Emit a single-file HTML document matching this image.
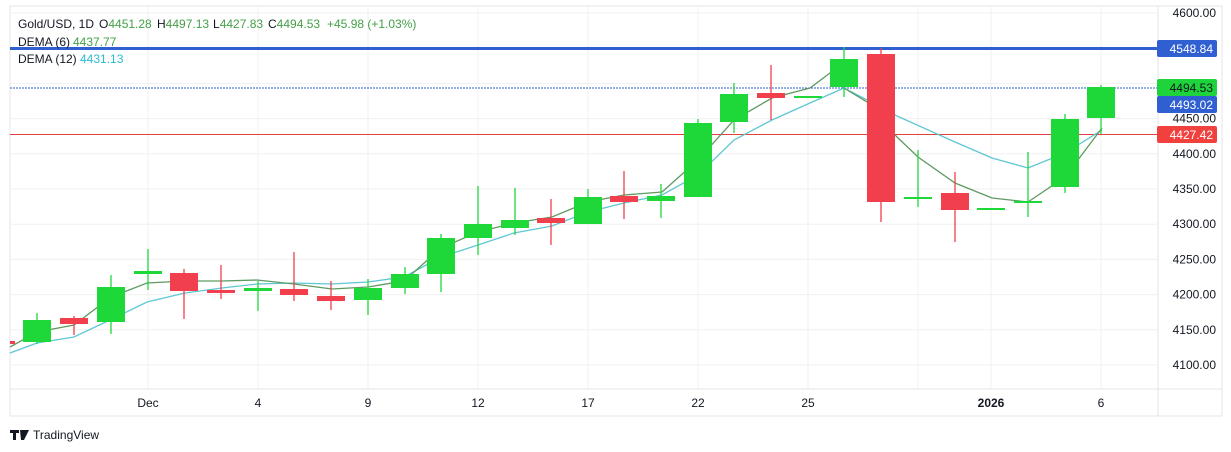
<!DOCTYPE html>
<html><head><meta charset="utf-8"><style>
html,body{margin:0;padding:0;background:#fff;width:1231px;height:452px;overflow:hidden}
svg text{font-family:"Liberation Sans",sans-serif}
</style></head><body>
<svg width="1231" height="452" viewBox="0 0 1231 452" xmlns="http://www.w3.org/2000/svg">
<rect x="0" y="0" width="1231" height="452" fill="#fff"/>
<rect x="10" y="6" width="1212" height="410" fill="#fff" stroke="#e6e6e6" stroke-width="1"/>
<defs><clipPath id="cp"><rect x="10" y="6" width="1148" height="383"/></clipPath></defs>
<g clip-path="url(#cp)">
<g stroke="#f0f0f0" stroke-width="1">
<line x1="10" x2="1158" y1="13" y2="13"/><line x1="10" x2="1158" y1="48.2" y2="48.2"/><line x1="10" x2="1158" y1="83.4" y2="83.4"/><line x1="10" x2="1158" y1="118.6" y2="118.6"/><line x1="10" x2="1158" y1="153.8" y2="153.8"/><line x1="10" x2="1158" y1="189" y2="189"/><line x1="10" x2="1158" y1="224.2" y2="224.2"/><line x1="10" x2="1158" y1="259.4" y2="259.4"/><line x1="10" x2="1158" y1="294.6" y2="294.6"/><line x1="10" x2="1158" y1="329.8" y2="329.8"/><line x1="10" x2="1158" y1="365" y2="365"/>
<line x1="148" x2="148" y1="6" y2="389"/><line x1="258" x2="258" y1="6" y2="389"/><line x1="368" x2="368" y1="6" y2="389"/><line x1="478" x2="478" y1="6" y2="389"/><line x1="588" x2="588" y1="6" y2="389"/><line x1="698" x2="698" y1="6" y2="389"/><line x1="808" x2="808" y1="6" y2="389"/><line x1="918" x2="918" y1="6" y2="389"/><line x1="991" x2="991" y1="6" y2="389"/><line x1="1101" x2="1101" y1="6" y2="389"/>
</g>
<line x1="10" x2="1158" y1="134.5" y2="134.5" stroke="#e0403f" stroke-width="1"/>
<line x1="10" x2="1158" y1="88" y2="88" stroke="#2f5fd0" stroke-width="1" stroke-dasharray="2,1"/>
<line x1="10" x2="1158" y1="48.5" y2="48.5" stroke="#2f5fd0" stroke-width="3"/>
<polyline fill="none" stroke="#5fc7d4" stroke-width="1.3" points="10,353 37,343 74,337 110,320 147,302 185,293 222,288 257,284 294,283 332,284 368,282 404,277 441,257 478,245 514,233 552,226 588,212 624,203 662,195 698,175 734,140 772,120 810,103 844,88 867,100 897,116 955,142 992,158 1028,168 1065,153 1102,130"/>
<polyline fill="none" stroke="#5e9a62" stroke-width="1.3" points="10,347 37,332 74,325 111,297 147,283 185,281 222,281 257,280 294,284 332,289 368,287 404,281 441,248 478,232 514,223 552,217 588,202 624,195 662,192 698,160 734,120 772,98 810,88 830,73 844,88 867,102 897,137 918,157 955,183 992,198 1028,202 1065,177 1102,128"/>
<g stroke-width="1.3">
<g stroke="#1ed83a" fill="#1ed83a">
<line x1="37" x2="37" y1="313" y2="344"/><rect x="23" y="320" width="28" height="22" stroke="none"/>
<line x1="111" x2="111" y1="275" y2="334"/><rect x="97" y="287" width="28" height="35" stroke="none"/>
<line x1="148" x2="148" y1="249" y2="290"/><rect x="134" y="271" width="28" height="3" stroke="none"/>
<line x1="258" x2="258" y1="281" y2="311"/><rect x="244" y="288" width="28" height="3" stroke="none"/>
<line x1="368" x2="368" y1="279" y2="315"/><rect x="354" y="288" width="28" height="12" stroke="none"/>
<line x1="405" x2="405" y1="267" y2="294"/><rect x="391" y="274" width="28" height="14" stroke="none"/>
<line x1="441" x2="441" y1="234" y2="292"/><rect x="427" y="238" width="28" height="36" stroke="none"/>
<line x1="478" x2="478" y1="186" y2="255"/><rect x="464" y="224" width="28" height="14" stroke="none"/>
<line x1="515" x2="515" y1="188" y2="235"/><rect x="501" y="220" width="28" height="8" stroke="none"/>
<line x1="588" x2="588" y1="189" y2="224"/><rect x="574" y="197" width="28" height="27" stroke="none"/>
<line x1="661" x2="661" y1="184" y2="218"/><rect x="647" y="196" width="28" height="5" stroke="none"/>
<line x1="698" x2="698" y1="119" y2="197"/><rect x="684" y="123" width="28" height="74" stroke="none"/>
<line x1="734" x2="734" y1="83" y2="133"/><rect x="720" y="94" width="28" height="28" stroke="none"/>
<rect x="794" y="96" width="28" height="2" stroke="none"/>
<line x1="844" x2="844" y1="47" y2="97"/><rect x="830" y="59" width="28" height="28" stroke="none"/>
<line x1="918" x2="918" y1="150" y2="207"/><rect x="904" y="197" width="28" height="2" stroke="none"/>
<rect x="977" y="208" width="28" height="2" stroke="none"/>
<line x1="1028" x2="1028" y1="152" y2="217"/><rect x="1014" y="201" width="28" height="2" stroke="none"/>
<line x1="1065" x2="1065" y1="114" y2="193"/><rect x="1051" y="119" width="28" height="68" stroke="none"/>
<line x1="1101" x2="1101" y1="85" y2="134"/><rect x="1087" y="87" width="28" height="31" stroke="none"/>
</g>
<g stroke="#f23f4e" fill="#f23f4e">
<rect x="10" y="341" width="5" height="3" stroke="none"/>
<line x1="74" x2="74" y1="316" y2="335"/><rect x="60" y="318" width="28" height="6" stroke="none"/>
<line x1="184" x2="184" y1="269" y2="319"/><rect x="170" y="273" width="28" height="18" stroke="none"/>
<line x1="221" x2="221" y1="265" y2="299"/><rect x="207" y="290" width="28" height="3" stroke="none"/>
<line x1="294" x2="294" y1="252" y2="301"/><rect x="280" y="289" width="28" height="6" stroke="none"/>
<line x1="331" x2="331" y1="281" y2="310"/><rect x="317" y="296" width="28" height="5" stroke="none"/>
<line x1="551" x2="551" y1="199" y2="245"/><rect x="537" y="218" width="28" height="5" stroke="none"/>
<line x1="624" x2="624" y1="171" y2="219"/><rect x="610" y="196" width="28" height="6" stroke="none"/>
<line x1="771" x2="771" y1="65" y2="120"/><rect x="757" y="93" width="28" height="5" stroke="none"/>
<line x1="881" x2="881" y1="48" y2="222"/><rect x="867" y="54" width="28" height="148" stroke="none"/>
<line x1="955" x2="955" y1="172" y2="242"/><rect x="941" y="193" width="28" height="17" stroke="none"/>
</g>
</g>
</g>
<g font-size="12" fill="#131722" text-anchor="end">
<line x1="1158" y1="6" x2="1158" y2="416" stroke="#e6e6e6"/>
<line x1="10" y1="389" x2="1222" y2="389" stroke="#e6e6e6"/>
<text x="1216" y="17">4600.00</text>
<text x="1216" y="122.6">4450.00</text>
<text x="1216" y="157.8">4400.00</text>
<text x="1216" y="193">4350.00</text>
<text x="1216" y="228.2">4300.00</text>
<text x="1216" y="263.4">4250.00</text>
<text x="1216" y="298.6">4200.00</text>
<text x="1216" y="333.8">4150.00</text>
<text x="1216" y="369">4100.00</text>
<rect x="1157" y="40" width="60" height="17" rx="2" fill="#2f5fd0"/><text x="1213" y="53" fill="#fff">4548.84</text>
<rect x="1157" y="79" width="60" height="17" rx="2" fill="#1fd43a"/><text x="1213" y="92" fill="#131722">4494.53</text>
<rect x="1157" y="96" width="60" height="17" rx="2" fill="#2f5fd0"/><text x="1213" y="109" fill="#fff">4493.02</text>
<rect x="1157" y="126" width="60" height="17" rx="2" fill="#f0413f"/><text x="1213" y="139" fill="#fff">4427.42</text>
</g>
<g font-size="12" fill="#131722" text-anchor="middle">
<text x="148" y="407">Dec</text><text x="258" y="407">4</text><text x="368" y="407">9</text><text x="478" y="407">12</text><text x="588" y="407">17</text><text x="698" y="407">22</text><text x="808" y="407">25</text><text x="991" y="407" font-weight="bold">2026</text><text x="1101" y="407">6</text>
</g>
<g font-size="12" fill="#131722">
<text x="18" y="28">Gold/USD, 1D</text>
<text x="99" y="28">O<tspan fill="#43a047">4451.28</tspan></text>
<text x="157" y="28">H<tspan fill="#43a047">4497.13</tspan></text>
<text x="213" y="28">L<tspan fill="#43a047">4427.83</tspan></text>
<text x="268" y="28">C<tspan fill="#43a047">4494.53</tspan></text>
<text x="327" y="28" fill="#43a047">+45.98 (+1.03%)</text>
<text x="18" y="46">DEMA (6)</text><text x="73" y="46" fill="#43a047">4437.77</text>
<text x="18" y="63">DEMA (12)</text><text x="80" y="63" fill="#2bbbd0">4431.13</text>
</g>
<g>
<path d="M10 430 h9 v3 h-3 v7 h-3 v-7 h-3z" fill="#131722"/>
<path d="M20 430 h9 l-5 10 h-3z" fill="#131722"/>
<text x="33" y="439" font-size="12" fill="#131722">TradingView</text>
</g>
</svg>
</body></html>
